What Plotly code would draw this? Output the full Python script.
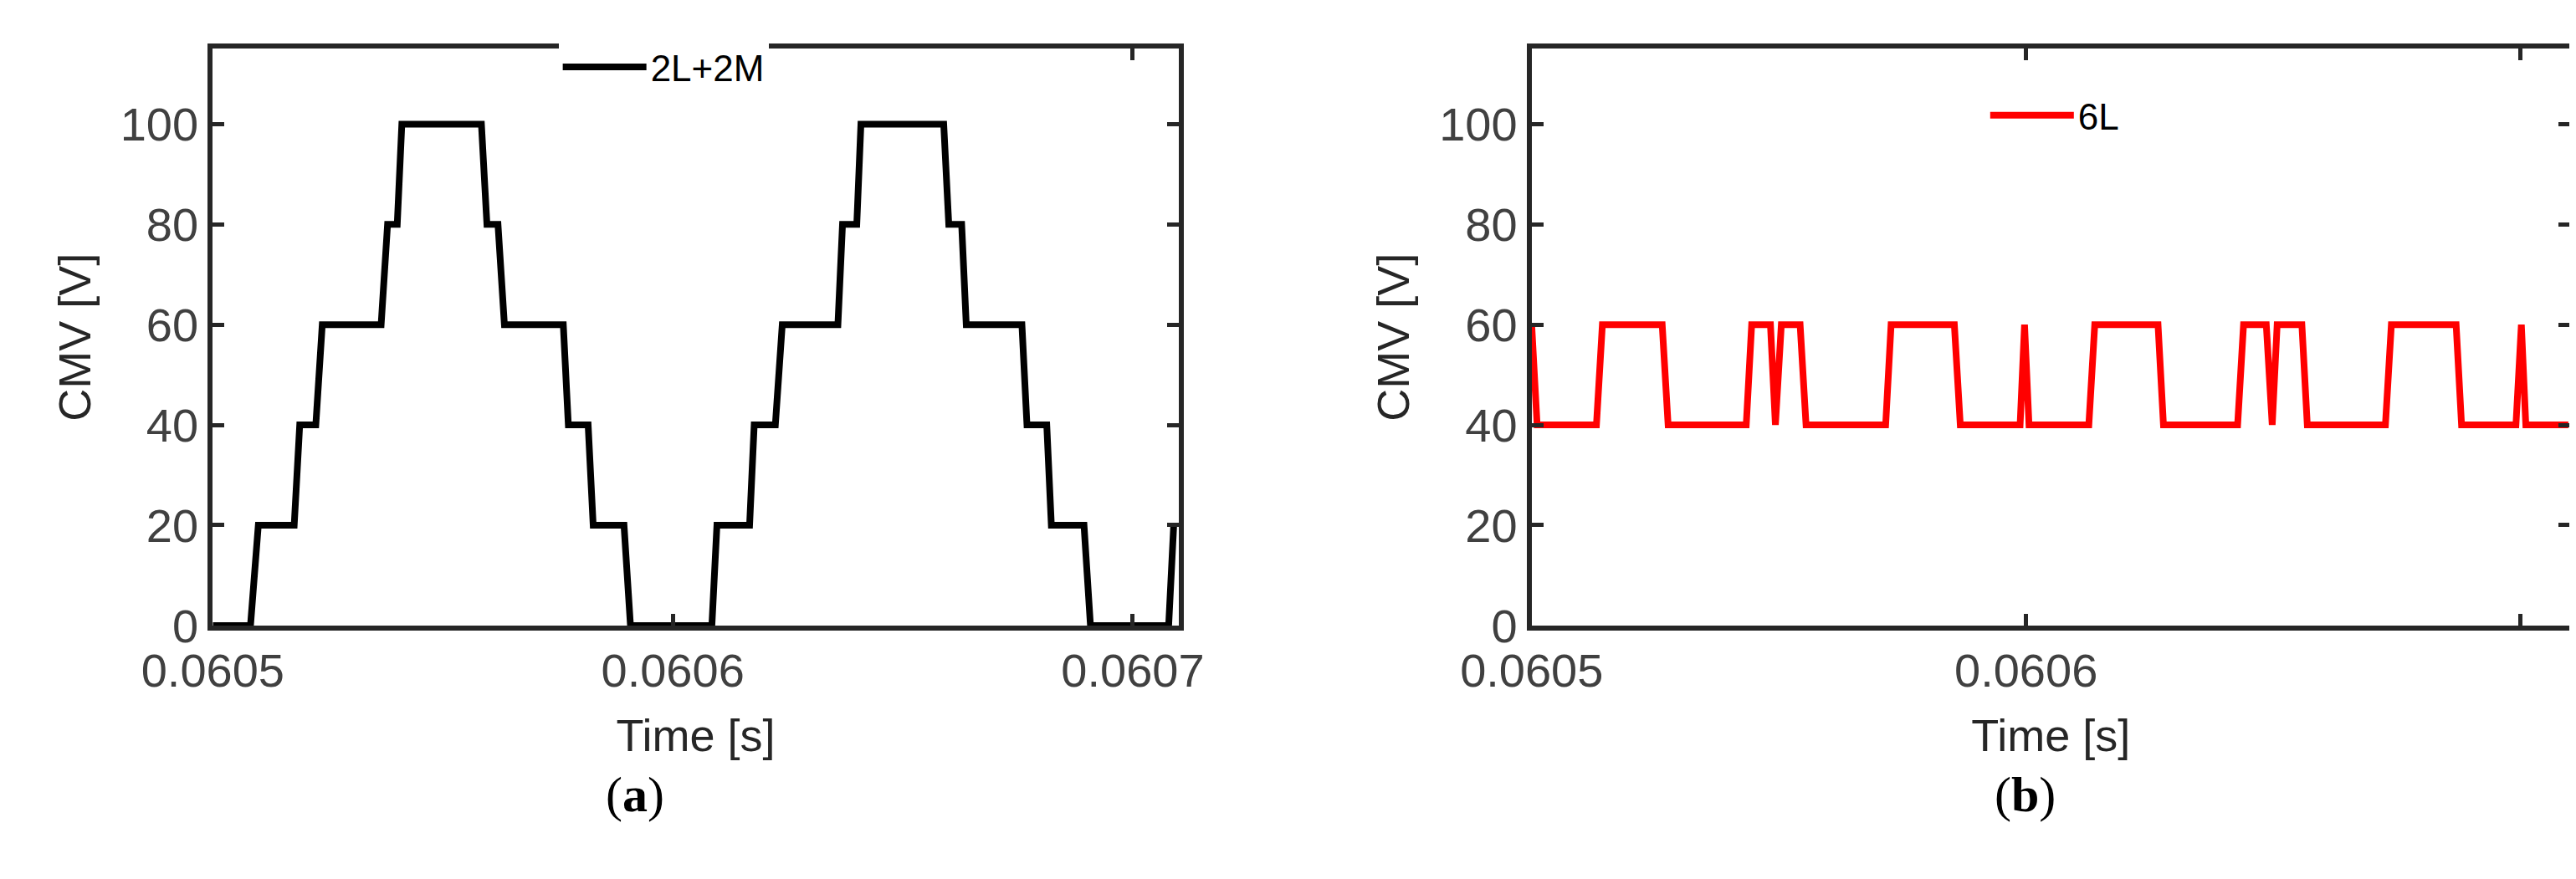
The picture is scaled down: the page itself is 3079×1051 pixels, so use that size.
import plotly.graph_objects as go

t0 = 0.0605
# times in microseconds after 0.0605 s
t_a_us = [0, 8.2, 9.9, 17.7, 18.9, 22.4, 23.8, 36.6, 38.0, 40.1, 41.1, 58.4, 59.6, 62.0, 63.4, 76.2, 77.3,
          81.6, 82.7, 89.4, 90.8, 108.5, 109.6, 116.7, 117.7, 122.3, 123.8, 135.9, 136.9, 140.0, 140.9,
          158.9, 160.0, 162.8, 163.8, 175.9, 177.0, 181.3, 182.3, 189.4, 190.8, 207.8, 208.9]
v_a = [0, 0, 20, 20, 40, 40, 60, 60, 80, 80, 100, 100, 80, 80, 60, 60, 40,
       40, 20, 20, 0, 0, 20, 20, 40, 40, 60, 60, 80, 80, 100,
       100, 80, 80, 60, 60, 40, 40, 20, 20, 0, 0, 20]
t_b_us = [0, 1.1, 13.1, 14.3, 26.4, 27.6, 43.4, 44.5, 48.3, 49.3, 50.5, 54.3, 55.5, 71.6, 72.7, 85.5, 86.7,
          98.8, 99.7, 100.6, 112.7, 113.9, 126.7, 127.8, 142.8, 144.0, 148.6, 149.8, 150.8, 155.8, 156.9,
          172.7, 173.9, 187.0, 188.1, 199.1, 200.2, 201.1, 209.7]
v_b = [60, 40, 40, 60, 60, 40, 40, 60, 60, 40, 60, 60, 40, 40, 60, 60, 40,
       40, 60, 40, 40, 60, 60, 40, 40, 60, 60, 40, 60, 60, 40,
       40, 60, 60, 40, 40, 60, 40, 40]
x_ticks = [0.0605, 0.0606, 0.0607]
y_ticks = [0, 20, 40, 60, 80, 100]

t_a = [t0 + u * 1e-6 for u in t_a_us]
t_b = [t0 + u * 1e-6 for u in t_b_us]

fig = go.Figure()
fig.add_trace(go.Scatter(x=t_a, y=v_a, mode="lines", name="2L+2M", showlegend=True,
                         line=dict(color="black", width=8), xaxis="x", yaxis="y", legend="legend"))
fig.add_trace(go.Scatter(x=t_b, y=v_b, mode="lines", name="6L", showlegend=True,
                         line=dict(color="red", width=8), xaxis="x2", yaxis="y2", legend="legend2"))

ax = dict(range=[0.0605, 0.06071], tickvals=x_ticks, ticktext=[str(v) for v in x_ticks],
          showline=True, mirror="ticks", linecolor="#262626", linewidth=6, ticks="inside",
          ticklen=14, tickwidth=5, tickcolor="#262626", showgrid=False, zeroline=False,
          automargin=False,
          tickfont=dict(family="Liberation Sans", size=56, color="#404040"),
          title=dict(text="Time [s]", font=dict(family="Liberation Sans", size=54, color="#262626"), standoff=30))
ay = dict(range=[0, 115], tickvals=y_ticks, showline=True, mirror="ticks", linecolor="#262626",
          linewidth=6, ticks="inside", ticklen=14, tickwidth=5, tickcolor="#262626",
          showgrid=False, zeroline=False, automargin=False,
          tickfont=dict(family="Liberation Sans", size=56, color="#404040"),
          title=dict(text="CMV [V]", font=dict(family="Liberation Sans", size=54, color="#262626"), standoff=20))

leg = dict(font=dict(family="Liberation Sans", size=44, color="black"), bgcolor="white",
           borderwidth=0, xanchor="center", yanchor="top", itemwidth=100)
fig.update_layout(
    width=3079, height=1051, paper_bgcolor="white", plot_bgcolor="white",
    margin=dict(l=0, r=0, t=0, b=0), showlegend=True,
    xaxis=dict(ax, domain=[0.080, 0.455], anchor="y"),
    yaxis=dict(ay, domain=[0.296, 0.952], anchor="x"),
    xaxis2=dict(ax, domain=[0.592, 0.995], anchor="y2"),
    yaxis2=dict(ay, domain=[0.296, 0.952], anchor="x2"),
    legend=dict(leg, x=0.255, y=0.965),
    legend2=dict(leg, x=0.795, y=0.91, bgcolor="rgba(0,0,0,0)"),
    annotations=[
        dict(text="(<b>a</b>)", x=0.232, y=0.07, xref="paper", yref="paper", showarrow=False,
             font=dict(family="Liberation Serif", size=60, color="black")),
        dict(text="(<b>b</b>)", x=0.796, y=0.07, xref="paper", yref="paper", showarrow=False,
             font=dict(family="Liberation Serif", size=60, color="black")),
    ],
)
fig.write_html("out.html")
